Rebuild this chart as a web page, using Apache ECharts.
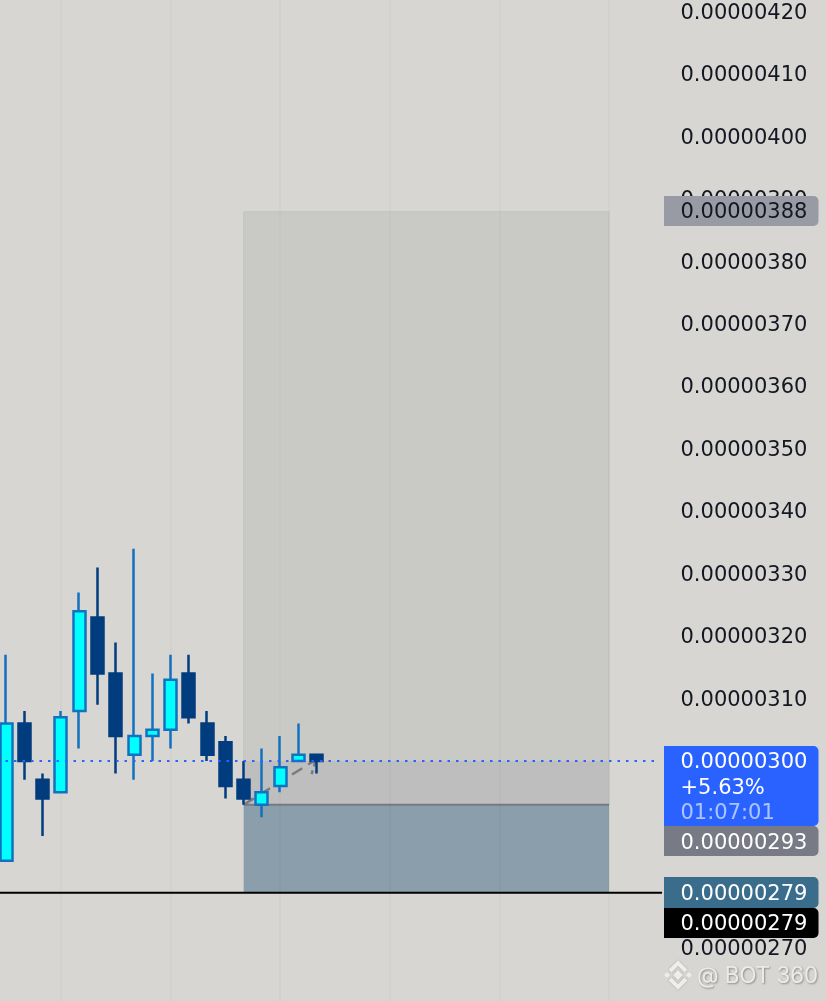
<!DOCTYPE html>
<html><head><meta charset="utf-8">
<style>html,body{margin:0;padding:0;background:#d7d6d2;overflow:hidden;width:826px;height:1001px}#c{position:absolute;left:-3px;top:0;width:829px;height:1011px}</style>
<script src="https://cdn.jsdelivr.net/npm/echarts@6/dist/echarts.min.js"></script>
</head><body><div id="c"></div>
<script>
// prices are in units of 1e-8
const opens  = [284,306,297,295,308,323,314,301,304,305,314,306,303,297,293,296,300,301];
const closes = [306,300,294,307,324,314,304,304,305,313,307,301,296,294,295,299,301,300];
const lows   = [284,297,288,295,302,309,298,297,300,302,306,300,294,293,291,295,300,298];
const highs  = [317,308,298,308,327,331,319,334,314,317,317,308,304,300,302,304,306,301];
const slotCount = 37;
const categories = Array.from({length: slotCount}, (_, i) => String(i));
const gridIndexes = [3, 9, 15, 21, 27, 33];
const entry = 293, target = 388, stop = 278.9, last = 300;
const tradeStart = 13, tradeEnd = 33;
const tickFormat = v => (v / 1e8).toFixed(8);

const FONT = '"DejaVu Sans"';
const FS = 21;
const candleData = categories.map((_, i) => i < opens.length ? [opens[i], closes[i], lows[i], highs[i]] : '-');

function tag(top, h, fill, lines) {
  const els = [{type:'rect', z:100, shape:{x:664, y:top, width:154.5, height:h, r:[0,5,5,0]}, style:{fill}}];
  lines.forEach(l => els.push({type:'text', z:101, style:{x:680.5, y:l.y, text:l.t, fill:l.c || '#fff', font:FS + 'px ' + FONT, textVerticalAlign:'middle', textBaseline:'middle'}}));
  return els;
}
const graphics = [{type:'group', x:3, y:0, z:100, children:[
  ...tag(196, 30, '#989ba3', [{y:213, t:tickFormat(target), c:'#131722'}]),
  ...tag(746, 80, '#2962ff', [{y:763, t:tickFormat(last)}, {y:789, t:'+5.63%'}, {y:814, t:'01:07:01', c:'rgba(255,255,255,0.62)'}]),
  ...tag(826, 30, '#787a85', [{y:843.5, t:tickFormat(entry)}]),
  ...tag(877, 31, '#3a6d8c', [{y:895, t:tickFormat(stop)}]),
  ...tag(908, 30, '#000000', [{y:925, t:tickFormat(stop)}]),
  // watermark
  {type:'group', z:102, x:678, y:975, children:[
    {type:'rect', rotation:Math.PI/4, shape:{x:-3.5,y:-3.5,width:7,height:7}, style:{fill:'#eeeeeb', shadowColor:'rgba(0,0,0,0.25)', shadowBlur:2}},
    {type:'polyline', shape:{points:[[-8,-4],[0,-12],[8,-4]]}, style:{stroke:'#eeeeeb', lineWidth:4, fill:null, shadowColor:'rgba(0,0,0,0.25)', shadowBlur:2}},
    {type:'polyline', shape:{points:[[-8,4],[0,12],[8,4]]}, style:{stroke:'#eeeeeb', lineWidth:4, fill:null, shadowColor:'rgba(0,0,0,0.25)', shadowBlur:2}},
    {type:'rect', rotation:Math.PI/4, x:-11, shape:{x:-2,y:-2,width:4,height:4}, style:{fill:'#eeeeeb'}},
    {type:'rect', rotation:Math.PI/4, x:11, shape:{x:-2,y:-2,width:4,height:4}, style:{fill:'#eeeeeb'}}
  ]},
  {type:'text', z:102, style:{x:697, y:976, text:'@ BOT 360', fill:'#ecebe8', font:'22.3px Inter', textBaseline:'middle', textVerticalAlign:'middle', textShadowColor:'rgba(0,0,0,0.35)', textShadowBlur:2, textShadowOffsetX:1, textShadowOffsetY:1}}
]}];

const chart = echarts.init(document.getElementById('c'), null, {renderer:'canvas'});
chart.setOption({
  animation:false,
  backgroundColor:'#d7d6d2',
  grid:{left:0, width:676, top:0, height:1010.7},
  xAxis:[
    {type:'category', data:categories, axisLine:{show:false}, axisTick:{show:false}, axisLabel:{show:false}, splitLine:{show:false}},
    {type:'value', min:-0.5, max:slotCount-0.5, show:false, splitLine:{show:false}}
  ],
  yAxis:{type:'value', position:'right', min:260, max:421.9, interval:10,
    axisLine:{show:false}, axisTick:{show:false}, splitLine:{show:false},
    axisLabel:{show:true, margin:7.5, showMinLabel:false, showMaxLabel:false,
      formatter:v => '{p|' + tickFormat(v) + '}',
      rich:{p:{color:'#131722', fontFamily:FONT, fontSize:FS, padding:[3,0,0,0]}}}},
  graphic:graphics,
  series:[
    {type:'line', xAxisIndex:1, z:1, symbol:'none', silent:true, lineStyle:{width:0}, data:[],
      markArea:{silent:true, data:[
        [{coord:[tradeStart,target], itemStyle:{color:'#c9cac5', borderColor:'#c4c5c0', borderWidth:1}},{coord:[tradeEnd,entry]}],
        [{coord:[tradeStart,last], itemStyle:{color:'#bfbebe'}},{coord:[tradeEnd,entry]}],
        [{coord:[tradeStart,entry], itemStyle:{color:'#8a9fab'}},{coord:[tradeEnd,stop]}]
      ]},
      markLine:{silent:true, symbol:'none', label:{show:false}, lineStyle:{color:'#000', opacity:0.02, width:2, type:'solid'},
        data:gridIndexes.map(i => ({xAxis:i}))}
    },
    {type:'line', xAxisIndex:1, z:2, symbol:'none', silent:true, lineStyle:{color:'#787a80', width:2}, data:[[tradeStart,entry],[tradeEnd,entry]]},
    {type:'line', xAxisIndex:1, z:2, symbol:'none', silent:true, lineStyle:{color:'#787a80', width:2.5, type:[12,7]}, data:[[tradeStart,entry],[16.95,300.2]]},
    {type:'line', xAxisIndex:1, z:2, symbol:'none', silent:true, lineStyle:{color:'#787a80', width:2.5, type:[7,4]}, data:[[16.95,300.2],[16.72,297.9]]},
    {type:'candlestick', z:5, silent:true, data:candleData, barWidth:12.5,
      itemStyle:{color:'#00ffff', color0:'#003c7e', borderColor:'#1272c0', borderColor0:'#003c7e', borderWidth:2.5}},
    {type:'line', xAxisIndex:1, z:6, symbol:'none', silent:true, lineStyle:{color:'#2962ff', width:2, type:[2.5,6]}, data:[[-0.5,last],[35.55,last]]},
    {type:'line', xAxisIndex:1, z:6, symbol:'none', silent:true, lineStyle:{color:'#000', width:2}, data:[[-0.5,stop],[35.9,stop]]}
  ]
});
</script></body></html>
